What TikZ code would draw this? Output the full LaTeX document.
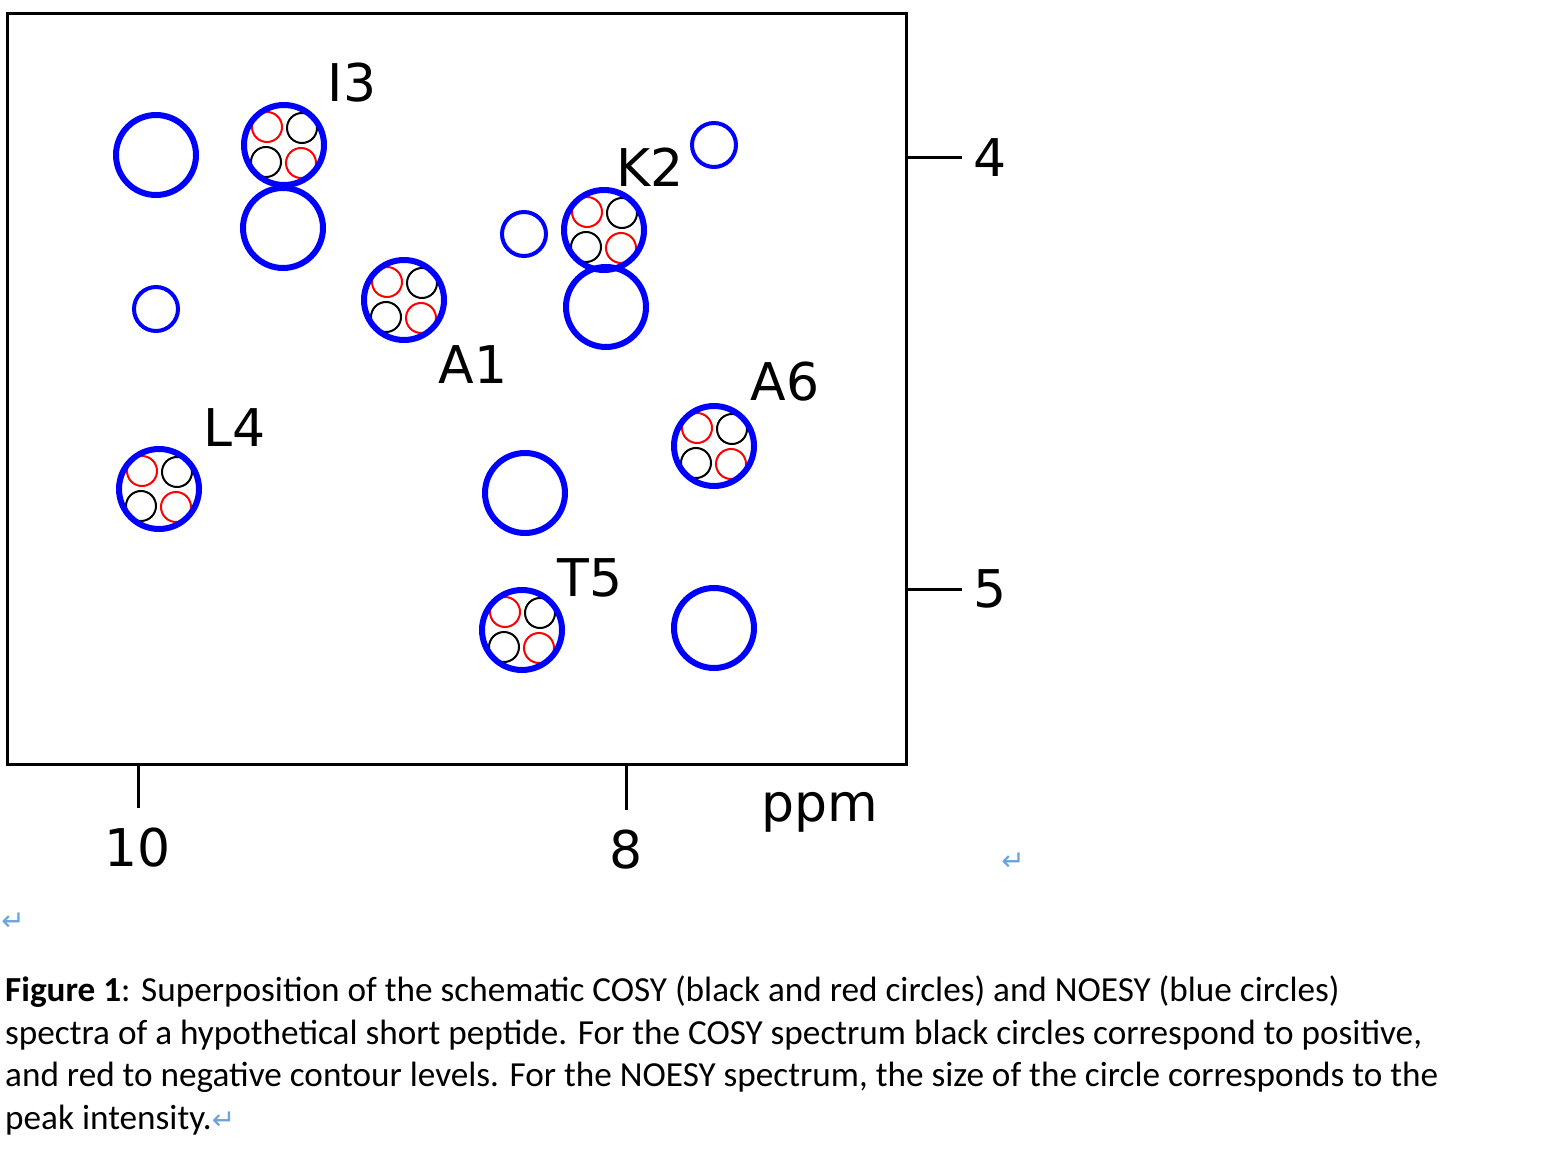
\documentclass[tikz,border=0pt]{standalone}
\usepackage{fontspec}
\setmainfont{DejaVu Sans}
\newfontfamily\capfont{Carlito}
\begin{document}
\begin{tikzpicture}[x=1pt,y=-1pt,
  noe/.style={draw=blue,line width=6},
  noes/.style={draw=blue,line width=4},
  cred/.style={draw=red,line width=2},
  cblk/.style={draw=black,line width=2},
  lbl/.style={font=\fontsize{52}{60}\selectfont,inner sep=0},
  capl/.style={anchor=west,inner sep=0,font=\capfont\fontsize{35.2}{40}\selectfont},
  ret/.style={text=cyan!60!blue!60,inner sep=0,font=\fontsize{28}{30}\selectfont}]
\useasboundingbox (0,0) rectangle (1553,1161);
\fill[white] (0,0) rectangle (1553,1161);
\draw[line width=3] (7,14) rectangle (906,764);
\draw[line width=3] (906,158) -- (962,158);
\draw[line width=3] (906,589) -- (962,589);
\draw[line width=3] (138,764) -- (138,808);
\draw[line width=3] (626,764) -- (626,810);
\node[lbl] (t4) at (990,158) {4};
\node[lbl] (t5) at (990,589) {5};
\node[lbl] (t10) at (138,848) {10};
\node[lbl] (t8) at (626,850) {8};
\node[lbl] (ppm) at (820,812) {ppm};
\foreach \x/\y in {156/155,283/228,606/307,525/493,714/628}
  \draw[noe] (\x,\y) circle (40);
\foreach \x/\y in {156/309,524/234,714/145}
  \draw[noes] (\x,\y) circle (22);
\foreach \x/\y in {284/145,404/300,604/230,714/446,159/489,522/630}{
  \draw[cred] (\x-17,\y-18) circle (15);
  \draw[cblk] (\x+18,\y-17) circle (15);
  \draw[cblk] (\x-18,\y+17) circle (15);
  \draw[cred] (\x+17,\y+18) circle (15);
  \draw[noe] (\x,\y) circle (40);
}
\node[lbl] (I3) at (352,83) {I3};
\node[lbl] (K2) at (650,167) {K2};
\node[lbl] (A1) at (473,365) {A1};
\node[lbl] (A6) at (785,382) {A6};
\node[lbl] (L4) at (235,428) {L4};
\node[lbl] (T5) at (590,578) {T5};
\node[ret] (r1) at (1013,862) {↵};
\node[ret] (r2) at (13,922) {↵};
\node[capl] (c1) at (5,992) {\textbf{Figure 1}: Superposition of the schematic COSY (black and red circles) and NOESY (blue circles)};
\node[capl] (c2) at (5,1035) {spectra of a hypothetical short peptide. For the COSY spectrum black circles correspond to positive,};
\node[capl] (c3) at (5,1077) {and red to negative contour levels. For the NOESY spectrum, the size of the circle corresponds to the};
\node[capl] (c4) at (5,1120) {peak intensity.{\normalfont\fontsize{28}{30}\selectfont\color{cyan!60!blue!60}↵}};
\end{tikzpicture}
\end{document}
